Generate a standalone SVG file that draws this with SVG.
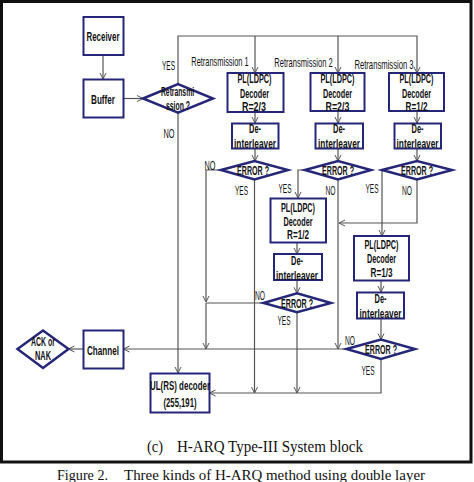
<svg xmlns="http://www.w3.org/2000/svg" width="474" height="482" viewBox="0 0 474 482">
<defs>
<style>
.box{fill:#fff;stroke:#262678;stroke-width:2}
.dia{fill:#fff;stroke:#262678;stroke-width:2.5}
.t{font-family:"Liberation Sans",Arial,sans-serif;font-weight:bold;font-size:13px;fill:#111;text-anchor:middle}
.l{font-family:"Liberation Sans",Arial,sans-serif;font-size:12px;fill:#111;text-anchor:middle}
.c{fill:none;stroke:#555;stroke-width:1.2}
.cap{font-family:"Liberation Serif","Times New Roman",serif;fill:#111}
</style>
<marker id="ah" viewBox="0 0 8 8" refX="7" refY="4" markerWidth="8" markerHeight="8" markerUnits="userSpaceOnUse" orient="auto">
<path d="M1,1 L7,4 L1,7" fill="none" stroke="#555" stroke-width="1"/>
</marker>
</defs>
<rect x="0" y="0" width="474" height="482" fill="#fff"/>
<rect x="1.5" y="1.5" width="469.5" height="460.5" fill="none" stroke="#111" stroke-width="3"/>

<g id="connectors">
<path class="c" d="M103,55 V79" marker-end="url(#ah)"/>
<path class="c" d="M123,98.5 H143" marker-end="url(#ah)"/>
<path class="c" d="M178,84 V36 H417 V73" marker-end="url(#ah)"/>
<path class="c" d="M255,36 V73" marker-end="url(#ah)"/>
<path class="c" d="M338,36 V73" marker-end="url(#ah)"/>
<path class="c" d="M178,112.7 V373" marker-end="url(#ah)"/>
<path class="c" d="M255,112 V123" marker-end="url(#ah)"/>
<path class="c" d="M338,111 V123" marker-end="url(#ah)"/>
<path class="c" d="M417,111 V123" marker-end="url(#ah)"/>
<path class="c" d="M255,148.5 V161" marker-end="url(#ah)"/>
<path class="c" d="M338,148.5 V161" marker-end="url(#ah)"/>
<path class="c" d="M417,148.5 V161" marker-end="url(#ah)"/>
<path class="c" d="M221,170 H206 V302" marker-end="url(#ah)"/>
<path class="c" d="M206,303 V349" marker-end="url(#ah)"/>
<path class="c" d="M254.5,179.5 V393" marker-end="url(#ah)"/>
<path class="c" d="M305,170 H298 V198" marker-end="url(#ah)"/>
<path class="c" d="M338,179.5 V349" marker-end="url(#ah)"/>
<path class="c" d="M417,179.5 V223 H339" marker-end="url(#ah)"/>
<path class="c" d="M382,170 V236" marker-end="url(#ah)"/>
<path class="c" d="M297,242.7 V254" marker-end="url(#ah)"/>
<path class="c" d="M297,280 V293.3" marker-end="url(#ah)"/>
<path class="c" d="M263.5,303 H206"/>
<path class="c" d="M297,312.3 V393" marker-end="url(#ah)"/>
<path class="c" d="M381,281 V292" marker-end="url(#ah)"/>
<path class="c" d="M381,318.5 V339.5" marker-end="url(#ah)"/>
<path class="c" d="M346.5,349 H123.5" marker-end="url(#ah)"/>
<path class="c" d="M381,359 V393 H209.5" marker-end="url(#ah)"/>
<path class="c" d="M83,349 H68.5" marker-end="url(#ah)"/>
</g>

<g id="edge-labels">
<text class="l" x="168.5" y="69.5" textLength="13" lengthAdjust="spacingAndGlyphs">YES</text>
<text class="l" x="169" y="137.5" textLength="11" lengthAdjust="spacingAndGlyphs">NO</text>
<text class="l" transform="translate(220,66) scale(0.62,1)">Retransmission 1</text>
<text class="l" transform="translate(303.5,67) scale(0.63,1)">Retransmission 2</text>
<text class="l" transform="translate(384,68.5) scale(0.64,1)">Retransmission 3</text>
<text class="l" x="210" y="169.5" textLength="11" lengthAdjust="spacingAndGlyphs">NO</text>
<text class="l" x="241.5" y="194.5" textLength="13" lengthAdjust="spacingAndGlyphs">YES</text>
<text class="l" x="285" y="192.5" textLength="13" lengthAdjust="spacingAndGlyphs">YES</text>
<text class="l" x="330.5" y="194.5" textLength="10" lengthAdjust="spacingAndGlyphs">NO</text>
<text class="l" x="372" y="192.5" textLength="13" lengthAdjust="spacingAndGlyphs">YES</text>
<text class="l" x="407" y="194.5" textLength="10" lengthAdjust="spacingAndGlyphs">NO</text>
<text class="l" x="260" y="300" textLength="10" lengthAdjust="spacingAndGlyphs">NO</text>
<text class="l" x="284" y="325" textLength="13" lengthAdjust="spacingAndGlyphs">YES</text>
<text class="l" x="350" y="344.5" textLength="10" lengthAdjust="spacingAndGlyphs">NO</text>
<text class="l" x="368" y="374.5" textLength="13" lengthAdjust="spacingAndGlyphs">YES</text>
</g>

<g id="receiver">
<rect class="box" x="83.5" y="17" width="40" height="38"/>
<text class="t" x="103" y="41" textLength="33" lengthAdjust="spacingAndGlyphs">Receiver</text>
</g>
<g id="buffer">
<rect class="box" x="83.5" y="79.5" width="40" height="38"/>
<text class="t" x="103" y="103.5" textLength="24" lengthAdjust="spacingAndGlyphs">Buffer</text>
</g>
<g id="retransmission">
<polygon class="dia" points="143,98.5 178,84 213,98.5 178,112.7"/>
<text class="t" x="177.5" y="96" font-size="12" textLength="33" lengthAdjust="spacingAndGlyphs">Retransmi</text>
<text class="t" x="178" y="109.5" font-size="12" textLength="24" lengthAdjust="spacingAndGlyphs">ssion ?</text>
</g>

<g id="decoder1">
<rect class="box" x="227.5" y="73" width="56" height="39"/>
<text class="t" x="254.5" y="83" textLength="34" lengthAdjust="spacingAndGlyphs">PL(LDPC)</text>
<text class="t" x="254.5" y="97.5" textLength="29" lengthAdjust="spacingAndGlyphs">Decoder</text>
<text class="t" x="254" y="111" textLength="24" lengthAdjust="spacingAndGlyphs">R=2/3</text>
</g>
<g id="decoder2">
<rect class="box" x="310.5" y="73" width="54" height="38"/>
<text class="t" x="337.5" y="83" textLength="34" lengthAdjust="spacingAndGlyphs">PL(LDPC)</text>
<text class="t" x="337.5" y="97.5" textLength="29" lengthAdjust="spacingAndGlyphs">Decoder</text>
<text class="t" x="337.5" y="111" textLength="24" lengthAdjust="spacingAndGlyphs">R=2/3</text>
</g>
<g id="decoder3">
<rect class="box" x="389" y="73" width="55" height="38"/>
<text class="t" x="416.5" y="83" textLength="34" lengthAdjust="spacingAndGlyphs">PL(LDPC)</text>
<text class="t" x="416.5" y="97.5" textLength="29" lengthAdjust="spacingAndGlyphs">Decoder</text>
<text class="t" x="416.5" y="111" textLength="22" lengthAdjust="spacingAndGlyphs">R=1/2</text>
</g>

<g id="deint1">
<rect class="box" x="232" y="123.5" width="46.5" height="25"/>
<text class="t" x="255" y="133" textLength="12" lengthAdjust="spacingAndGlyphs">De-</text>
<text class="t" x="255" y="148" textLength="42" lengthAdjust="spacingAndGlyphs">interleaver</text>
</g>
<g id="deint2">
<rect class="box" x="315.5" y="123.5" width="47.5" height="25"/>
<text class="t" x="339" y="133" textLength="12" lengthAdjust="spacingAndGlyphs">De-</text>
<text class="t" x="339" y="148" textLength="42" lengthAdjust="spacingAndGlyphs">interleaver</text>
</g>
<g id="deint3">
<rect class="box" x="394.5" y="123.5" width="46.5" height="25"/>
<text class="t" x="417.5" y="133" textLength="12" lengthAdjust="spacingAndGlyphs">De-</text>
<text class="t" x="417.5" y="148" textLength="42" lengthAdjust="spacingAndGlyphs">interleaver</text>
</g>

<g id="error1">
<polygon class="dia" points="221,170 254.5,161 288,170 254.5,179.5"/>
<text class="t" x="253" y="175" textLength="32" lengthAdjust="spacingAndGlyphs">ERROR ?</text>
</g>
<g id="error2">
<polygon class="dia" points="305,170 338,161 371,170 338,179.5"/>
<text class="t" x="338" y="175" textLength="32" lengthAdjust="spacingAndGlyphs">ERROR ?</text>
</g>
<g id="error3">
<polygon class="dia" points="382,170 417,161 452,170 417,179.5"/>
<text class="t" x="417" y="175" textLength="32" lengthAdjust="spacingAndGlyphs">ERROR ?</text>
</g>

<g id="decoder4">
<rect class="box" x="270.5" y="198.5" width="55.5" height="44"/>
<text class="t" x="298" y="211.5" textLength="34" lengthAdjust="spacingAndGlyphs">PL(LDPC)</text>
<text class="t" x="298" y="225.5" textLength="29" lengthAdjust="spacingAndGlyphs">Decoder</text>
<text class="t" x="298" y="239" textLength="22" lengthAdjust="spacingAndGlyphs">R=1/2</text>
</g>
<g id="deint4">
<rect class="box" x="274" y="254" width="48" height="26"/>
<text class="t" x="297" y="265" textLength="12" lengthAdjust="spacingAndGlyphs">De-</text>
<text class="t" x="297" y="279.5" textLength="42" lengthAdjust="spacingAndGlyphs">interleaver</text>
</g>
<g id="error4">
<polygon class="dia" points="263.5,303 297,293.3 331,303 297,312.3"/>
<text class="t" x="297" y="308" textLength="32" lengthAdjust="spacingAndGlyphs">ERROR ?</text>
</g>

<g id="decoder5">
<rect class="box" x="354" y="236" width="55" height="44.5"/>
<text class="t" x="381.5" y="249" textLength="34" lengthAdjust="spacingAndGlyphs">PL(LDPC)</text>
<text class="t" x="381.5" y="263" textLength="29" lengthAdjust="spacingAndGlyphs">Decoder</text>
<text class="t" x="381.5" y="277" textLength="22" lengthAdjust="spacingAndGlyphs">R=1/3</text>
</g>
<g id="deint5">
<rect class="box" x="357" y="292.5" width="47" height="26"/>
<text class="t" x="380.5" y="302.5" textLength="12" lengthAdjust="spacingAndGlyphs">De-</text>
<text class="t" x="380.5" y="317.5" textLength="42" lengthAdjust="spacingAndGlyphs">interleaver</text>
</g>
<g id="error5">
<polygon class="dia" points="346.5,349 381,339.5 415,349 381,359"/>
<text class="t" x="381" y="354" textLength="32" lengthAdjust="spacingAndGlyphs">ERROR ?</text>
</g>

<g id="channel">
<rect class="box" x="83.5" y="330.5" width="40" height="38"/>
<text class="t" x="103" y="355" textLength="32" lengthAdjust="spacingAndGlyphs">Channel</text>
</g>
<g id="ack-nak">
<polygon class="dia" points="17.5,349 43,330.5 68.5,349 43,368"/>
<text class="t" x="43" y="345.5" textLength="24" lengthAdjust="spacingAndGlyphs">ACK or</text>
<text class="t" x="43" y="359.5" textLength="16" lengthAdjust="spacingAndGlyphs">NAK</text>
</g>
<g id="ul-rs-decoder">
<rect class="box" x="150.5" y="373.5" width="59" height="39"/>
<text class="t" x="180" y="390" textLength="60" lengthAdjust="spacingAndGlyphs">UL(RS) decoder</text>
<text class="t" x="180" y="406.5" textLength="33" lengthAdjust="spacingAndGlyphs">(255,191)</text>
</g>

<g id="captions">
<text class="cap" x="147" y="451.5" font-size="16" textLength="16" lengthAdjust="spacingAndGlyphs">(c)</text>
<text class="cap" x="177" y="451.5" font-size="16" textLength="186" lengthAdjust="spacingAndGlyphs">H-ARQ Type-III System block</text>
<text class="cap" x="57" y="480" font-size="15" textLength="51" lengthAdjust="spacingAndGlyphs">Figure 2.</text>
<text class="cap" x="124" y="480" font-size="15" textLength="301" lengthAdjust="spacingAndGlyphs">Three kinds of H-ARQ method using double layer</text>
</g>
</svg>
